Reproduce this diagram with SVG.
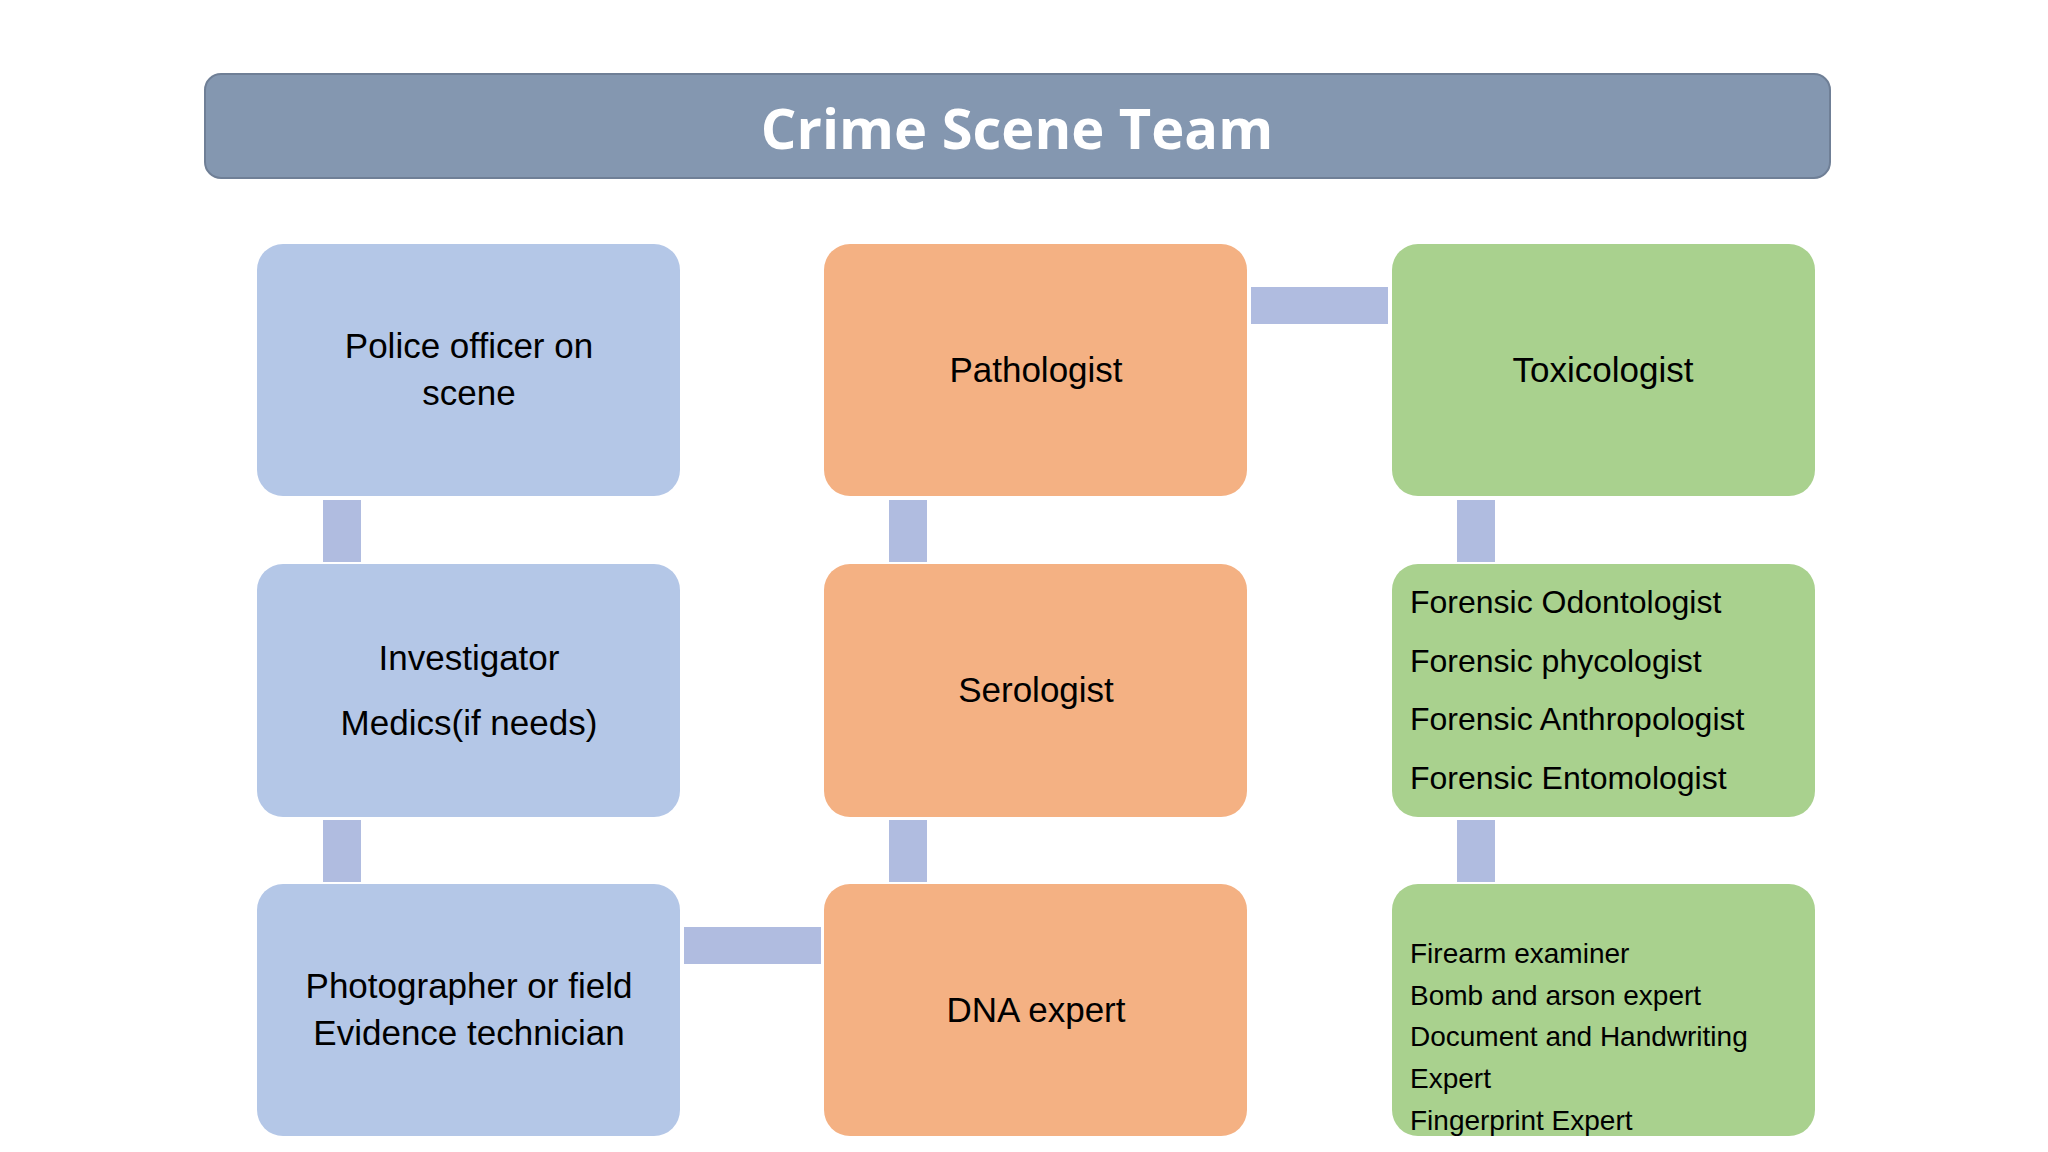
<svg xmlns="http://www.w3.org/2000/svg" width="2048" height="1152" viewBox="0 0 2048 1152">
<style>
.t{font-family:"Liberation Sans",Arial,sans-serif;fill:#000}
.c{text-anchor:middle;font-size:35px}
.l{font-size:32px}
.s{font-size:28px}
.blue{fill:#B4C7E7}.org{fill:#F4B183}.grn{fill:#A9D18E}
.con{fill:#B0BCE0}
</style>
<rect width="2048" height="1152" fill="#fff"/>
<g id="title">
<rect x="205" y="74" width="1625" height="104" rx="16" fill="#8497B0" stroke="#6F7F96" stroke-width="2"/>
<text x="1017" y="149" text-anchor="middle" font-family="'Open Sans','Liberation Sans',sans-serif" font-weight="bold" font-size="56" fill="#fff">Crime Scene Team</text>
</g>
<g id="connectors">
<rect class="con" x="323" y="500" width="38" height="62"/>
<rect class="con" x="889" y="500" width="38" height="62"/>
<rect class="con" x="1457" y="500" width="38" height="62"/>
<rect class="con" x="323" y="820" width="38" height="62"/>
<rect class="con" x="889" y="820" width="38" height="62"/>
<rect class="con" x="1457" y="820" width="38" height="62"/>
<rect class="con" x="1251" y="287" width="137" height="37"/>
<rect class="con" x="684" y="927" width="137" height="37"/>
</g>
<g id="police"><rect class="blue" x="257" y="244" width="423" height="252" rx="26"/>
<text class="t c" x="469" y="358">Police officer on</text><text class="t c" x="469" y="405">scene</text></g>
<g id="investigator"><rect class="blue" x="257" y="564" width="423" height="253" rx="26"/>
<text class="t c" x="469" y="670">Investigator</text><text class="t c" x="469" y="735">Medics(if needs)</text></g>
<g id="photographer"><rect class="blue" x="257" y="884" width="423" height="252" rx="26"/>
<text class="t c" x="469" y="998">Photographer or field</text><text class="t c" x="469" y="1045">Evidence technician</text></g>
<g id="pathologist"><rect class="org" x="824" y="244" width="423" height="252" rx="26"/>
<text class="t c" x="1036" y="382">Pathologist</text></g>
<g id="serologist"><rect class="org" x="824" y="564" width="423" height="253" rx="26"/>
<text class="t c" x="1036" y="702">Serologist</text></g>
<g id="dna"><rect class="org" x="824" y="884" width="423" height="252" rx="26"/>
<text class="t c" x="1036" y="1022">DNA expert</text></g>
<g id="toxicologist"><rect class="grn" x="1392" y="244" width="423" height="252" rx="26"/>
<text class="t c" x="1603" y="382">Toxicologist</text></g>
<g id="forensic"><rect class="grn" x="1392" y="564" width="423" height="253" rx="26"/>
<text class="t l" x="1410" y="613">Forensic Odontologist</text>
<text class="t l" x="1410" y="672">Forensic phycologist</text>
<text class="t l" x="1410" y="730">Forensic Anthropologist</text>
<text class="t l" x="1410" y="789">Forensic Entomologist</text></g>
<g id="experts"><rect class="grn" x="1392" y="884" width="423" height="252" rx="26"/>
<text class="t s" x="1410" y="963">Firearm examiner</text>
<text class="t s" x="1410" y="1005">Bomb and arson expert</text>
<text class="t s" x="1410" y="1046">Document and Handwriting</text>
<text class="t s" x="1410" y="1088">Expert</text>
<text class="t s" x="1410" y="1130">Fingerprint Expert</text></g>
</svg>
